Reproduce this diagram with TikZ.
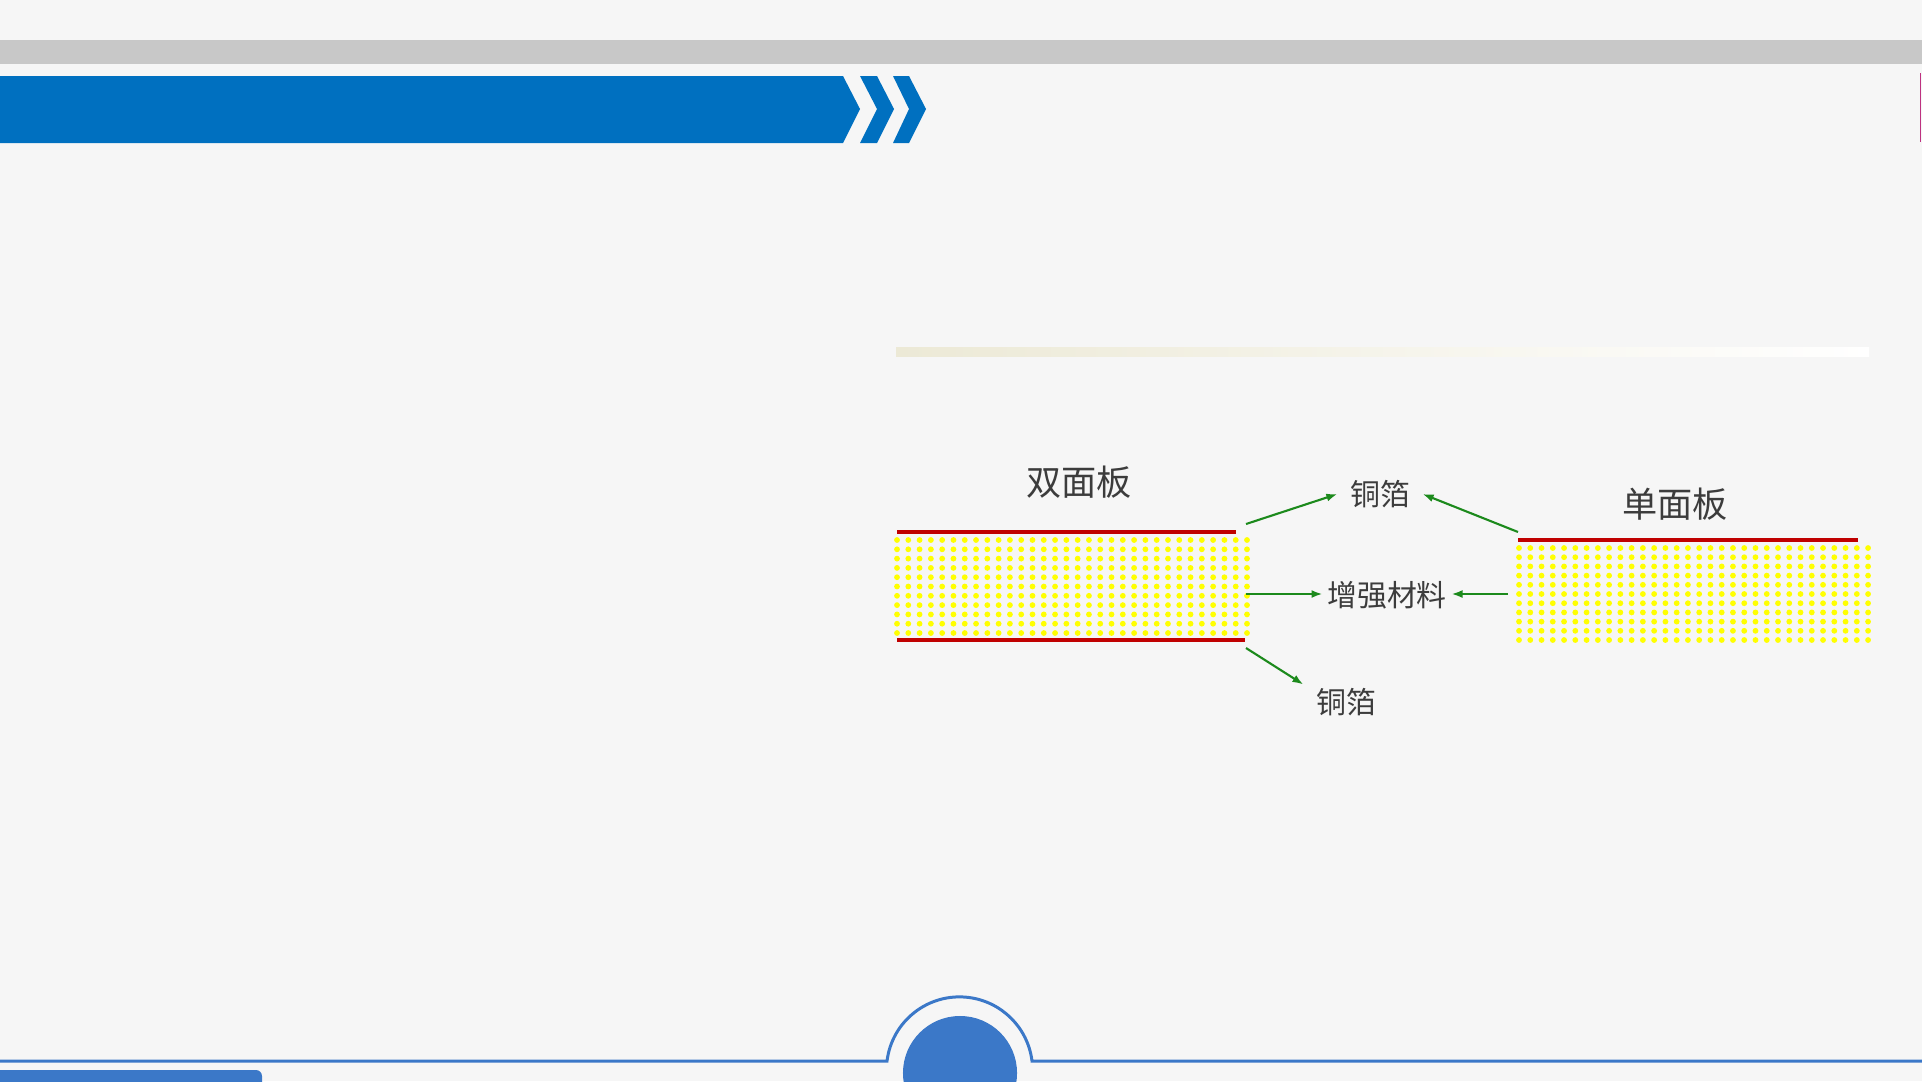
\documentclass[tikz,border=0pt]{standalone}
\usepackage{fontspec}
\newfontfamily\cjk{Noto Sans CJK SC}
\usetikzlibrary{arrows.meta, positioning}

\definecolor{pagebg}{HTML}{F6F6F6}
\definecolor{topgray}{HTML}{C8C8C8}
\definecolor{bannerblue}{HTML}{0070C0}
\definecolor{baseblue}{HTML}{3B78C8}
\definecolor{foilred}{HTML}{C00000}
\definecolor{fibreyellow}{HTML}{FFFF00}
\definecolor{arrowgreen}{HTML}{1C8A1C}
\definecolor{textgray}{HTML}{3C3C3C}
\definecolor{linebeige}{HTML}{ECE9D6}

\begin{document}
\begin{tikzpicture}[
    x=0.01cm, y=-0.01cm,
    every node/.style={font=\cjk, text=textgray},
    boardname/.style={font=\cjk\fontsize{10}{12}\selectfont, inner sep=0pt},
    layername/.style={font=\cjk\fontsize{8.5}{10}\selectfont, inner xsep=0.12cm, inner ysep=0.03cm},
    foil/.style={draw=foilred, line width=1.15pt},
    fibre/.style={fill=fibreyellow},
    arrow/.style={-{Latex[length=1.1mm, width=0.8mm]}, draw=arrowgreen, line width=0.6pt}
]
    \useasboundingbox (0,0) rectangle (1922,1081);
    \clip (0,0) rectangle (1922,1081);
    \fill[pagebg] (0,0) rectangle (1922,1081);

    % header
    \fill[topgray] (0,40) rectangle (1922,64);
    \fill[bannerblue] (0,76) -- (843,76) -- (860,109) -- (843,143) -- (0,143) -- cycle;
    \fill[bannerblue] (860,76) -- (877,76) -- (894,109) -- (877,143) -- (860,143) -- (877,109) -- cycle;
    \fill[bannerblue] (893,76) -- (909,76) -- (926,109) -- (909,143) -- (893,143) -- (909,109) -- cycle;
    \draw[magenta!75!black, line width=0.5pt] (1920.5,73) -- (1920.5,142);
    \shade[left color=linebeige, right color=white] (896,347) rectangle (1869,356);

    % double sided board
    \foreach \i in {0,...,31}
        \foreach \j in {0,...,10}
            \fill[fibre] (897+\i*11.29, 540+\j*9.3) circle[radius=0.029cm];
    \draw[foil] (897,532) -- (1236,532);
    \draw[foil] (897,640) -- (1245,640);

    % single sided board
    \foreach \i in {0,...,31}
        \foreach \j in {0,...,10}
            \fill[fibre] (1519+\i*11.26, 548+\j*9.2) circle[radius=0.029cm];
    \draw[foil] (1518,540) -- (1858,540);

    \node (double) [boardname] at (1079,482) {双面板};
    \node (single) [boardname] at (1675,504) {单面板};
    \node (cutop) [layername] at (1380,494) {铜箔};
    \node (core) [layername, inner xsep=0.04cm] at (1387,595) {增强材料};
    \node (cubot) [layername] at (1346,702) {铜箔};

    \coordinate (dtop) at (1246,524);
    \coordinate (dmid) at (1246,594);
    \coordinate (dbot) at (1246,648);
    \coordinate (stop) at (1518,532);
    \coordinate (smid) at (1508,594);

    \draw [arrow] (dtop) -- (cutop.west);
    \draw [arrow] (stop) -- (cutop.east);
    \draw [arrow] (dmid) -- (core.west |- dmid);
    \draw [arrow] (smid) -- (core.east |- smid);
    \draw [arrow] (dbot) -- (cubot.north west);

    % footer
    \draw[baseblue, line width=0.85pt] (0,1061) -- (887,1061) arc[start angle=173, end angle=7, radius=0.73cm] -- (1922,1061);
    \fill[baseblue] (960,1073) circle[radius=0.57cm];
    \fill[baseblue, rounded corners=0.06cm] (-20,1070) rectangle (262,1095);
\end{tikzpicture}
\end{document}
